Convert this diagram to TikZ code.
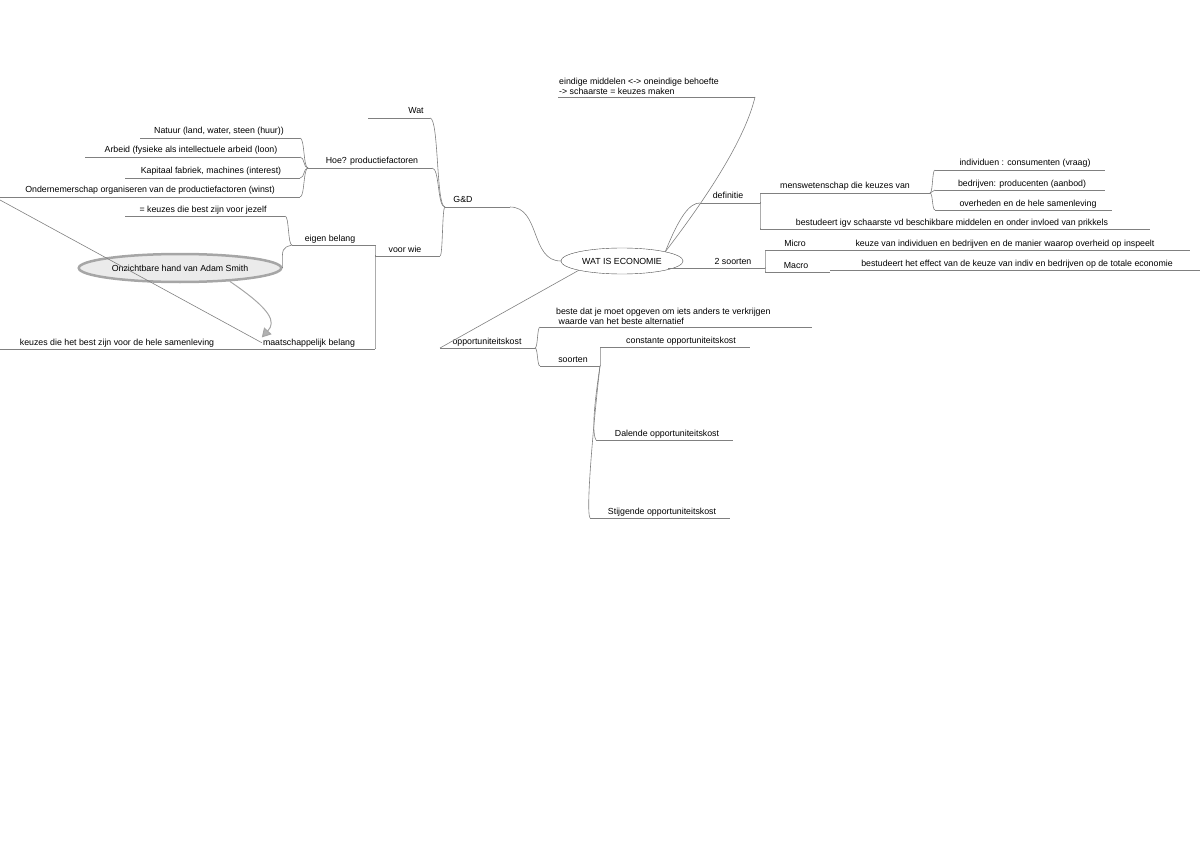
\documentclass[tikz,border=0pt]{standalone}
\usepackage{fontspec}
\setmainfont{Liberation Sans}
\usetikzlibrary{calc,arrows.meta,shapes.geometric}
\tikzset{ln/.style={draw=black!50,line width=0.6pt},
 lab/.style={font=\fontsize{8.8}{10}\selectfont,inner sep=1pt,anchor=base},
 bub/.style={ellipse,draw}}
% \lab{name}{textx}{liney}{x1}{x2}{text}
\newcommand\lab[6]{\node[lab] (#1) at (#2,#3-4) {#6};
 \coordinate (#1-l) at (#4,#3); \coordinate (#1-r) at (#5,#3);
 \draw[ln] (#1-l) -- (#1-r);}
\newcommand\cn[2]{\draw[ln] let \p1=(#1),\p2=(#2) in (\p1) .. controls (\x1*0.4+\x2*0.6,\y1) and (\x1*0.6+\x2*0.4,\y2) .. (\p2);}
\begin{document}
\begin{tikzpicture}[x=1pt,y=-1pt]
\useasboundingbox (0,0) rectangle (1200,848);
% center
\node[bub,draw=black!70,font=\fontsize{8.8}{10}\selectfont,minimum width=92,minimum height=26] (root) at (622,261) {WAT IS ECONOMIE};
% left
\lab{gd}{463}{207}{445}{510}{G\&D}
\lab{wat}{416}{118}{368}{430}{Wat}
\lab{hoe}{372}{168}{308}{432}{Hoe? productiefactoren}
\lab{nat}{219}{138}{140}{300}{Natuur (land, water, steen (huur))}
\lab{arb}{191}{157}{85}{300}{Arbeid (fysieke als intellectuele arbeid (loon)}
\lab{kap}{211}{178}{125}{300}{Kapitaal fabriek, machines (interest)}
\lab{ond}{150}{197}{0}{300}{Ondernemerschap organiseren van de productiefactoren (winst)}
\lab{jez}{203}{216}{125}{285}{= keuzes die best zijn voor jezelf}
\lab{eig}{330}{245}{292}{375}{eigen belang}
\lab{vw}{405}{256}{375}{440}{voor wie}
\lab{maa}{309}{349}{250}{375}{maatschappelijk belang}
\lab{sam}{117}{349}{0}{235}{keuzes die het best zijn voor de hele samenleving}
\node[bub,draw=black!35,line width=2.5pt,fill=black!8,font=\fontsize{8.8}{10}\selectfont,minimum width=200,minimum height=28] (hand) at (180,268) {Onzichtbare hand van Adam Smith};
\cn{root.west}{gd-r}
\cn{gd-l}{wat-r}\cn{gd-l}{hoe-r}\cn{gd-l}{vw-r}
\cn{hoe-l}{nat-r}\cn{hoe-l}{arb-r}\cn{hoe-l}{kap-r}\cn{hoe-l}{ond-r}
\cn{vw-l}{eig-r}\cn{vw-l}{maa-r}
\cn{eig-l}{jez-r}
\draw[ln] (eig-l) .. controls (282,248) .. (hand.east);
\draw[ln] (sam-r) -- (maa-l);
\coordinate (far) at (0,200);
\draw[ln] (far) -- (maa.west);
\draw[draw=black!35,line width=1pt,-{Triangle[length=9pt,width=10pt,fill=black!30]}] (hand.-15) .. controls (272,310) and (276,322) .. (maa.north west);
% right
\node[lab,align=left,anchor=south west] (ein) at (558,96) {eindige middelen <-> oneindige behoefte\\-> schaarste = keuzes maken};
\coordinate (ein-l) at (558,97); \coordinate (ein-r) at (755,97);
\draw[ln] (ein-l) -- (ein-r);
\draw[ln] (root.north east) .. controls (705,200) and (745,140) .. (ein-r);
\lab{def}{728}{203}{700}{760}{definitie}
\draw[ln] (root.north east) .. controls (680,215) and (690,203) .. (def-l);
\lab{men}{845}{193}{760}{930}{menswetenschap die keuzes van}
\lab{ind}{1025}{170}{935}{1105}{individuen : consumenten (vraag)}
\lab{bed}{1022}{190}{935}{1105}{bedrijven: producenten (aanbod)}
\lab{ove}{1028}{210}{935}{1112}{overheden en de hele samenleving}
\lab{bes}{952}{229}{760}{1150}{bestudeert igv schaarste vd beschikbare middelen en onder invloed van prikkels}
\cn{def-r}{men-l}\cn{def-r}{bes-l}
\cn{men-r}{ind-l}\cn{men-r}{bed-l}\cn{men-r}{ove-l}
\lab{two}{733}{268}{668}{765}{2 soorten}
\lab{mic}{795}{250}{765}{815}{Micro}
\lab{mac}{796}{272}{765}{830}{Macro}
\lab{kvi}{1005}{250}{815}{1190}{keuze van individuen en bedrijven en de manier waarop overheid op inspeelt}
\lab{eff}{1017}{270}{830}{1200}{bestudeert het effect van de keuze van indiv en bedrijven op de totale economie}
\cn{two-r}{mic-l}\cn{two-r}{mac-l}
\lab{opp}{487}{348}{440}{535}{opportuniteitskost}
\draw[ln] (root.south west) -- (opp-l);
\node[lab,align=left,anchor=south west] (bds) at (555,326) {beste dat je moet opgeven om iets anders te verkrijgen\\\ waarde van het beste alternatief};
\coordinate (bds-l) at (540,327); \coordinate (bds-r) at (812,327);
\draw[ln] (bds-l) -- (bds-r);
\lab{srt}{573}{366}{540}{600}{soorten}
\cn{opp-r}{bds-l}\cn{opp-r}{srt-l}
\lab{con}{681}{347}{600}{750}{constante opportuniteitskost}
\lab{dal}{667}{440}{596}{733}{Dalende opportuniteitskost}
\lab{sti}{662}{518}{590}{730}{Stijgende opportuniteitskost}
\cn{srt-r}{con-l}
\draw[ln] (srt-r) .. controls (598,380) and (590,430) .. (dal-l);
\draw[ln] (srt-r) .. controls (596,400) and (585,510) .. (sti-l);
\end{tikzpicture}
\end{document}
